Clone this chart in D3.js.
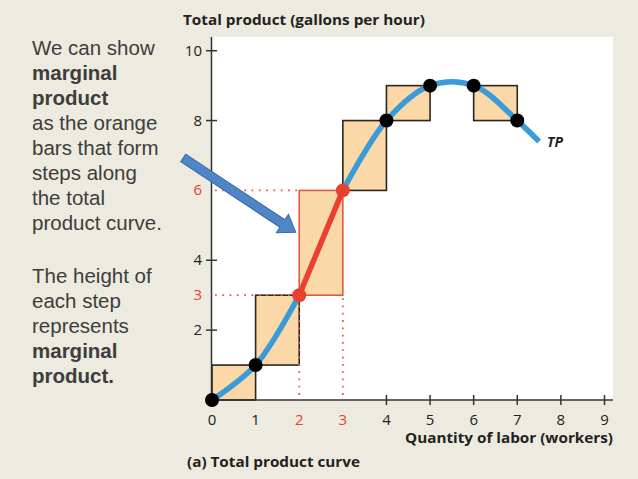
<!DOCTYPE html>
<html>
<head>
<meta charset="utf-8">
<script src="https://cdn.jsdelivr.net/npm/d3@7"></script>
<style>
  html, body { margin: 0; padding: 0; background: #edeadf; }
  svg { display: block; }
</style>
</head>
<body>
<svg id="chart" width="638" height="479"></svg>
<script>
// ---- data ----
const workers = [0, 1, 2, 3, 4, 5, 6, 7];
const totalProduct = [0, 1, 3, 6, 8, 9, 9, 8];
const curveTailX = [7.5];
const curveTailY = [7.4];
const xTickValues = [0, 1, 2, 3, 4, 5, 6, 7, 8, 9];
const yTickValues = [2, 4, 8, 10];
const highlightWorkers = [2, 3];
const highlightOutput = [3, 6];
const arrowFrom = [-0.66, 6.93];
const arrowTo = [1.92, 4.8];
const yTitle = "Total product (gallons per hour)";
const xTitle = "Quantity of labor (workers)";
const panelTitle = "(a) Total product curve";
const curveLabel = "TP";
const sideText = [
  [{t: "We can show", b: false}],
  [{t: "marginal", b: true}],
  [{t: "product", b: true}],
  [{t: "as the orange", b: false}],
  [{t: "bars that form", b: false}],
  [{t: "steps along", b: false}],
  [{t: "the total", b: false}],
  [{t: "product curve.", b: false}],
  null,
  [{t: "The height of", b: false}],
  [{t: "each step", b: false}],
  [{t: "represents", b: false}],
  [{t: "marginal", b: true}],
  [{t: "product.", b: true}]
];

// ---- layout ----
const svg = d3.select("#chart");
const axisFont = "'Open Sans', 'DejaVu Sans', sans-serif";
const x = d3.scaleLinear().domain([0, 9]).range([212, 604.5]);
const y = d3.scaleLinear().domain([0, 10]).range([400, 50.7]);
const red = "#e8412f";
const blue = "#3a9bd8";
const barFill = "#fad8a8";

// white plot panel
svg.append("rect").attr("x", 211).attr("y", 37).attr("width", 402).attr("height", 363).attr("fill", "#ffffff");

// marginal product bars
const bars = [];
for (let i = 0; i < workers.length - 1; i++) {
  const a = totalProduct[i], b = totalProduct[i + 1];
  if (a === b) continue;
  bars.push({x0: workers[i], x1: workers[i + 1], y0: Math.min(a, b), y1: Math.max(a, b), hi: workers[i] === highlightWorkers[0]});
}
svg.append("g").selectAll("rect").data(bars).join("rect")
  .attr("x", d => x(d.x0)).attr("y", d => y(d.y1))
  .attr("width", d => x(d.x1) - x(d.x0)).attr("height", d => y(d.y0) - y(d.y1))
  .attr("fill", barFill)
  .attr("stroke", d => d.hi ? "#e25a45" : "#2a2520")
  .attr("stroke-width", 1.6);

// red dotted guide lines
const dotted = svg.append("g").attr("stroke", "#e0604e").attr("stroke-width", 1.8).attr("stroke-dasharray", "1.8,5.5");
highlightOutput.forEach(v => {
  dotted.append("line").attr("x1", x(0) + 3).attr("x2", x(highlightWorkers[0])).attr("y1", y(v)).attr("y2", y(v));
});
highlightWorkers.forEach(w => {
  dotted.append("line").attr("x1", x(w)).attr("x2", x(w)).attr("y1", y(highlightOutput[0]) + 3).attr("y2", y(0));
});

// axes
const axisG = svg.append("g").attr("stroke", "#333").attr("stroke-width", 1.5);
axisG.append("line").attr("x1", 211.5).attr("x2", 211.5).attr("y1", 37).attr("y2", 400);
axisG.append("line").attr("x1", 211.5).attr("x2", 613).attr("y1", 400).attr("y2", 400);
axisG.selectAll(".yt").data(yTickValues).join("line")
  .attr("x1", 206).attr("x2", 217).attr("y1", d => y(d)).attr("y2", d => y(d));
axisG.selectAll(".xt").data(xTickValues.filter(v => v >= 4)).join("line")
  .attr("x1", d => x(d)).attr("x2", d => x(d)).attr("y1", 395).attr("y2", 405);

// tick labels
svg.append("g").selectAll("text").data(xTickValues).join("text")
  .attr("x", d => x(d)).attr("y", 425)
  .attr("text-anchor", "middle")
  .attr("font-family", axisFont).attr("font-size", 15)
  .attr("fill", d => highlightWorkers.includes(d) ? red : "#222")
  .text(d => d);
const yLabels = yTickValues.concat(highlightOutput).sort((a, b) => a - b);
svg.append("g").selectAll("text").data(yLabels).join("text")
  .attr("x", 202).attr("y", d => y(d) + 5)
  .attr("text-anchor", "end")
  .attr("font-family", axisFont).attr("font-size", 15)
  .attr("fill", d => highlightOutput.includes(d) ? red : "#222")
  .text(d => d);

// titles
svg.append("text").attr("x", 183).attr("y", 25).attr("font-family", axisFont).attr("font-weight", 700)
  .attr("font-size", 13.5).attr("fill", "#222")
  .attr("textLength", 242).attr("lengthAdjust", "spacingAndGlyphs").text(yTitle);
svg.append("text").attr("x", 405).attr("y", 443).attr("font-family", axisFont).attr("font-weight", 700)
  .attr("font-size", 13.5).attr("fill", "#222")
  .attr("textLength", 208).attr("lengthAdjust", "spacingAndGlyphs").text(xTitle);
svg.append("text").attr("x", 187).attr("y", 467).attr("font-family", axisFont).attr("font-weight", 700)
  .attr("font-size", 13.5).attr("fill", "#222")
  .attr("textLength", 173).attr("lengthAdjust", "spacingAndGlyphs").text(panelTitle);

// TP curve (blue), split around the highlighted red segment
const pts = workers.map((w, i) => [w, totalProduct[i]]).concat(curveTailX.map((v, i) => [v, curveTailY[i]]));
const line = d3.line().x(d => x(d[0])).y(d => y(d[1])).curve(d3.curveCatmullRom.alpha(0.5));
const hiIdx = workers.indexOf(highlightWorkers[0]);
svg.append("path").attr("d", line(pts.slice(0, hiIdx + 1)))
  .attr("fill", "none").attr("stroke", blue).attr("stroke-width", 5.5).attr("stroke-linecap", "round");
svg.append("path").attr("d", line(pts.slice(hiIdx + 1)))
  .attr("fill", "none").attr("stroke", blue).attr("stroke-width", 5.5);
svg.append("path").attr("d", d3.line().x(d => x(d[0])).y(d => y(d[1]))(pts.slice(hiIdx, hiIdx + 2)))
  .attr("fill", "none").attr("stroke", red).attr("stroke-width", 5.5);

// points
svg.append("g").selectAll("circle").data(workers.map((w, i) => ({w, v: totalProduct[i]}))).join("circle")
  .attr("cx", d => x(d.w)).attr("cy", d => y(d.v)).attr("r", 7)
  .attr("fill", d => highlightWorkers.includes(d.w) ? red : "#000");

// TP label
svg.append("text").attr("x", x(curveTailX[0]) + 8).attr("y", y(curveTailY[0]) + 5)
  .attr("font-family", "'Open Sans', Arial, sans-serif").attr("font-weight", 700).attr("font-style", "italic")
  .attr("font-size", 14).attr("fill", "#222").text(curveLabel);

// blue arrow annotation
(function () {
  const x1 = x(arrowFrom[0]), y1 = y(arrowFrom[1]);
  const x2 = x(arrowTo[0]), y2 = y(arrowTo[1]);
  const len = Math.hypot(x2 - x1, y2 - y1);
  const ang = Math.atan2(y2 - y1, x2 - x1) * 180 / Math.PI;
  const sw = 4.5, hw = 11, hl = 16;
  const shape = [[0, -sw], [len - hl, -sw], [len - hl, -hw], [len, 0], [len - hl, hw], [len - hl, sw], [0, sw]];
  svg.append("polygon")
    .attr("points", shape.map(p => p.join(",")).join(" "))
    .attr("transform", `translate(${x1},${y1}) rotate(${ang})`)
    .attr("fill", "#4f86c6").attr("stroke", "#3c68a6").attr("stroke-width", 1);
})();

// side text
const st = svg.append("text").attr("font-family", "'Liberation Sans', Arial, sans-serif").attr("font-size", 20.5).attr("fill", "#3d3d3d");
sideText.forEach((ln, i) => {
  const yy = i < 8 ? 55 + i * 25 : 283 + (i - 9) * 25;
  if (!ln) return;
  ln.forEach(seg => {
    st.append("tspan").attr("x", 32).attr("y", yy).attr("font-weight", seg.b ? "bold" : "normal").text(seg.t);
  });
});
</script>
</body>
</html>
